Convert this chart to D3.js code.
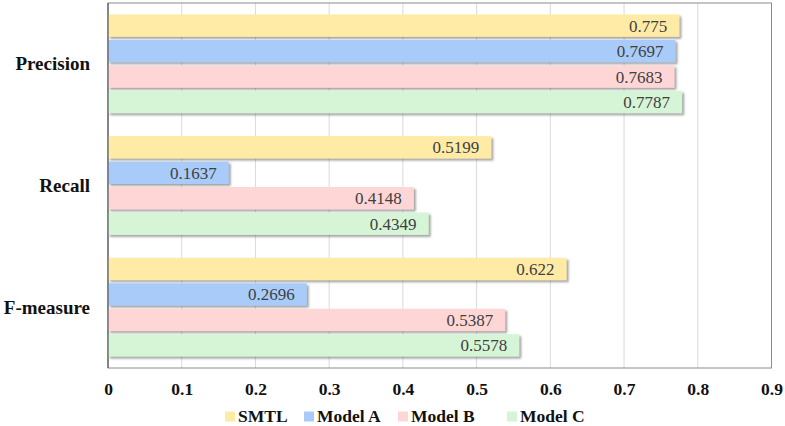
<!DOCTYPE html>
<html>
<head>
<meta charset="utf-8">
<script src="https://cdn.jsdelivr.net/npm/d3@7"></script>
<style>
  body { margin: 0; background: #fff; }
  text { font-family: "Liberation Serif", "Times New Roman", serif; }
</style>
</head>
<body>
<div id="chart-area"></div>
<script>
// data
const categories = ["Precision", "Recall", "F-measure"];
const seriesNames = ["SMTL", "Model A", "Model B", "Model C"];
const smtl = [0.775, 0.5199, 0.622];
const modelA = [0.7697, 0.1637, 0.2696];
const modelB = [0.7683, 0.4148, 0.5387];
const modelC = [0.7787, 0.4349, 0.5578];
const xTicks = [0, 0.1, 0.2, 0.3, 0.4, 0.5, 0.6, 0.7, 0.8, 0.9];
const colors = ["#ffeba6", "#a9cbfa", "#ffd6d6", "#d6f5d6"];

const seriesValues = [smtl, modelA, modelB, modelC];
const labelText = [["0.775", "0.5199", "0.622"], ["0.7697", "0.1637", "0.2696"],
                   ["0.7683", "0.4148", "0.5387"], ["0.7787", "0.4349", "0.5578"]];

const width = 785, height = 426;
const margin = {top: 3, right: 13.5, bottom: 58, left: 108};

const svg = d3.select("#chart-area")
    .append("svg")
    .attr("width", width)
    .attr("height", height);

const defs = svg.append("defs");
defs.append("filter")
    .attr("id", "shadow")
    .attr("x", "-5%").attr("y", "-20%")
    .attr("width", "115%").attr("height", "160%")
  .append("feDropShadow")
    .attr("dx", 2).attr("dy", 2)
    .attr("stdDeviation", 1.3)
    .attr("flood-color", "#555")
    .attr("flood-opacity", 0.55);

const x = d3.scaleLinear()
    .domain([0, 0.9])
    .range([margin.left, width - margin.right]);

const y0 = d3.scaleBand()
    .domain(categories)
    .range([margin.top, height - margin.bottom])
    .paddingInner(0)
    .paddingOuter(0);

const y1 = d3.scaleBand()
    .domain(seriesNames)
    .range([0, y0.bandwidth()])
    .paddingInner(0.12)
    .paddingOuter(0.45);

// gridlines
svg.append("g")
    .selectAll("line")
    .data(xTicks.slice(1))
    .enter().append("line")
    .attr("x1", d => x(d)).attr("x2", d => x(d))
    .attr("y1", margin.top).attr("y2", height - margin.bottom)
    .attr("stroke", "#d9d9d9")
    .attr("stroke-width", 1);

// plot frame
svg.append("rect")
    .attr("x", margin.left).attr("y", margin.top)
    .attr("width", x(0.9) - x(0))
    .attr("height", height - margin.bottom - margin.top)
    .attr("fill", "none")
    .attr("stroke", "#8c8c8c")
    .attr("stroke-width", 1);

const flat = [];
categories.forEach(function (c, ci) {
    seriesNames.forEach(function (s, si) {
        flat.push({cat: c, series: s, si: si, value: seriesValues[si][ci], label: labelText[si][ci]});
    });
});

const bars = svg.append("g")
    .selectAll("g")
    .data(flat)
    .enter().append("g")
    .attr("transform", d => "translate(0," + (y0(d.cat) + y1(d.series)) + ")");

bars.append("rect")
    .attr("x", x(0))
    .attr("y", 0)
    .attr("width", d => x(d.value) - x(0))
    .attr("height", y1.bandwidth())
    .attr("fill", d => colors[d.si])
    .attr("filter", "url(#shadow)");

bars.append("text")
    .attr("x", d => x(d.value) - 12)
    .attr("y", y1.bandwidth() / 2)
    .attr("dy", "0.35em")
    .attr("text-anchor", "end")
    .attr("font-size", 17)
    .attr("fill", "#404040")
    .text(d => d.label);

// left axis line
svg.append("line")
    .attr("x1", x(0)).attr("x2", x(0))
    .attr("y1", margin.top).attr("y2", height - margin.bottom)
    .attr("stroke", "#595959")
    .attr("stroke-width", 1.2);

// category labels
svg.append("g")
    .selectAll("text")
    .data(categories)
    .enter().append("text")
    .attr("x", 90)
    .attr("y", d => y0(d) + y0.bandwidth() / 2)
    .attr("dy", "0.35em")
    .attr("text-anchor", "end")
    .attr("font-size", 19)
    .attr("font-weight", "bold")
    .attr("fill", "#111")
    .text(d => d);

// x axis
const xAxis = svg.append("g")
    .attr("transform", "translate(0," + (height - margin.bottom) + ")")
    .call(d3.axisBottom(x).tickValues(xTicks).tickSize(0).tickPadding(15)
        .tickFormat(d => d === 0 ? "0" : d3.format(".1f")(d)));
xAxis.select(".domain").remove();
xAxis.selectAll("text")
    .attr("font-size", 17.5)
    .attr("font-weight", "bold")
    .attr("fill", "#111");

// legend
const legendX = [225, 304, 398, 507];
const legend = svg.append("g")
    .selectAll("g")
    .data(seriesNames)
    .enter().append("g")
    .attr("transform", (d, i) => "translate(" + legendX[i] + ",415.5)");

legend.append("rect")
    .attr("x", 0).attr("y", -4)
    .attr("width", 10).attr("height", 10)
    .attr("fill", (d, i) => colors[i]);

legend.append("text")
    .attr("x", 13)
    .attr("y", 0)
    .attr("dy", "0.35em")
    .attr("font-size", 17.5)
    .attr("font-weight", "bold")
    .attr("fill", "#111")
    .text(d => d);
</script>
</body>
</html>
